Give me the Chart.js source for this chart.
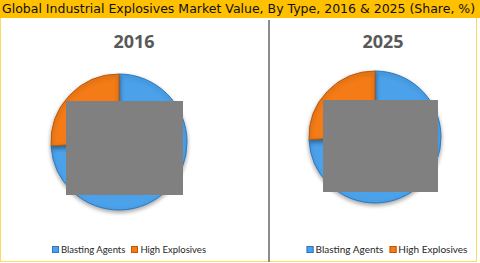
<!DOCTYPE html>
<html lang="en">
<head>
<meta charset="UTF-8">
<title>Industrial Explosives Share</title>
<script src="https://cdn.jsdelivr.net/npm/chart.js"></script>
<style>
  body { margin: 0; width: 480px; height: 263px; position: relative; overflow: hidden; background: #fff; }
  #titulo { position: absolute; left: 0; top: 0; width: 480px; height: 18px; background: #FFC000;
            font: 12.5px "DejaVu Sans"; line-height: 18px; white-space: nowrap; padding-left: 2px;
            box-sizing: border-box; color: #111; }
  #marco { position: absolute; left: 0; top: 18px; width: 477px; height: 244px;
           border: 1px solid #FFD966; border-top: none; box-sizing: border-box; }
  #sep { position: absolute; left: 268px; top: 20px; width: 2px; height: 242px; background: #8c8c8c; }
  .anio { position: absolute; font: bold 18px "Open Sans"; color: #595959; transform: translateX(-50%); }
  .pie { position: absolute; }
  .tapa { position: absolute; background: #808080; }
  .leyenda { position: absolute; font: 9.5px "Lato"; color: #262626; display: flex; align-items: center;
             white-space: nowrap; transform: translateX(-50%); }
  .leyenda .item { display: flex; align-items: center; margin-right: 6px; }
  .leyenda .item:last-child { margin-right: 0; }
  .leyenda .box { display: inline-block; width: 5px; height: 5px; margin-right: 2px; }
</style>
</head>
<body>
<div id="titulo">Global Industrial Explosives Market Value, By Type, 2016 &amp; 2025 (Share, %)</div>
<div id="marco"></div>
<div id="sep"></div>

<div class="anio" style="left:134px; top:29px;">2016</div>
<div class="anio" style="left:383px; top:29px;">2025</div>

<canvas id="pie2016" class="pie" width="150" height="150" style="left:44px; top:67px;"></canvas>
<canvas id="pie2025" class="pie" width="150" height="150" style="left:300px; top:62px;"></canvas>

<div class="tapa" style="left:66px; top:101px; width:117px; height:94px;"></div>
<div class="tapa" style="left:323px; top:100px; width:115px; height:92px;"></div>

<div id="ley2016" class="leyenda" style="left:129px; top:244px;"></div>
<div id="ley2025" class="leyenda" style="left:387px; top:243px; font-size:10px;"></div>

<script>
  const tipos = ["Blasting Agents", "High Explosives"];
  const share2016 = [74.1, 25.9];
  const share2025 = [74.4, 25.6];
  const colores = ["#4BA2EA", "#F47B16"];
  const bordes = ["#2F78BE", "#B85A10"];

  // sombra suave debajo del pastel
  const sombra = {
    id: "sombra",
    beforeDatasetsDraw(chart) {
      const ctx = chart.ctx;
      ctx.save();
      ctx.shadowColor = "rgba(0,0,0,0.35)";
      ctx.shadowBlur = 4;
      ctx.shadowOffsetY = 2;
    },
    afterDatasetsDraw(chart) {
      chart.ctx.restore();
    }
  };

  function crearPie(id, valores, radio) {
    return new Chart(document.getElementById(id), {
      type: "pie",
      data: {
        labels: tipos,
        datasets: [{
          data: valores,
          backgroundColor: colores,
          borderColor: bordes,
          borderWidth: 1,
          radius: radio
        }]
      },
      options: {
        responsive: false,
        animation: false,
        layout: { padding: 0 },
        plugins: {
          legend: { display: false },
          tooltip: { enabled: false }
        }
      },
      plugins: [sombra]
    });
  }

  function crearLeyenda(id) {
    let cont = document.getElementById(id);
    cont.innerHTML = "";
    tipos.forEach((t, i) => {
      cont.innerHTML += `<span class="item"><span class="box" style="background:${colores[i]};border:1px solid ${bordes[i]}"></span>${t}</span>`;
    });
  }

  crearPie("pie2016", share2016, 68);
  crearPie("pie2025", share2025, 66);
  crearLeyenda("ley2016");
  crearLeyenda("ley2025");
</script>
</body>
</html>
